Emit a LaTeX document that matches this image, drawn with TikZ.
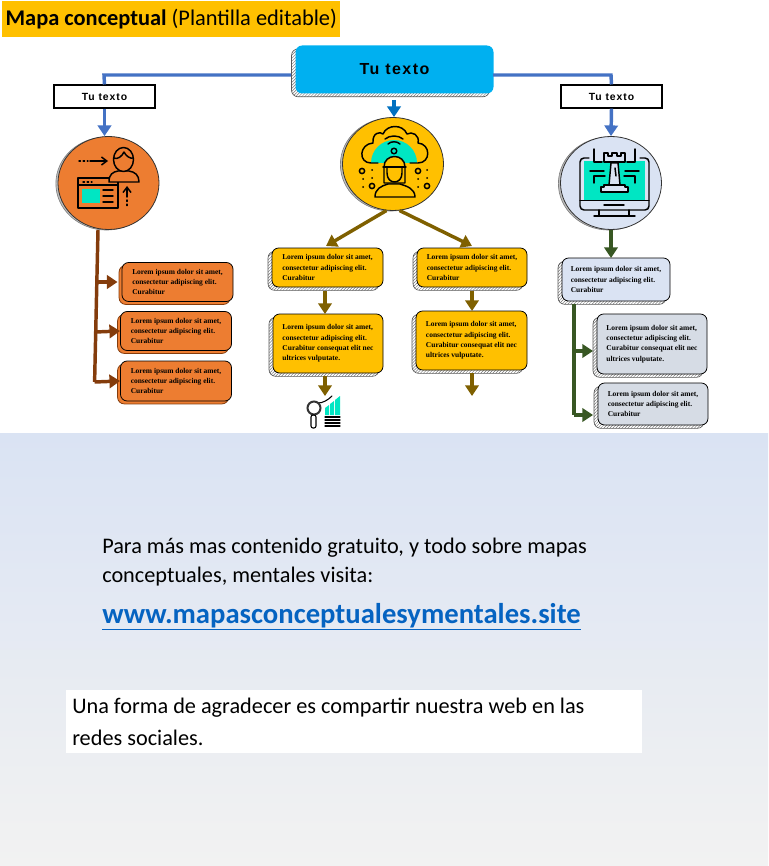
\documentclass[tikz,border=0pt]{standalone}
\usepackage{fontspec}
\setmainfont{Carlito}
\newfontfamily\loremfont{Liberation Serif}
\newfontfamily\tagfont[LetterSpace=9]{Liberation Sans}
\usetikzlibrary{arrows.meta, patterns.meta, shapes.geometric}
\definecolor{bandyellow}{HTML}{FFC000}
\definecolor{mainblue}{HTML}{00B0F0}
\definecolor{linkblue}{HTML}{4472C4}
\definecolor{midblue}{HTML}{0070C0}
\definecolor{orangefill}{HTML}{ED7D31}
\definecolor{brownline}{HTML}{843C0C}
\definecolor{goldline}{HTML}{7F6000}
\definecolor{greenline}{HTML}{385723}
\definecolor{paleblue}{HTML}{DAE3F3}
\definecolor{palegrey}{HTML}{D6DCE5}
\definecolor{paleend}{HTML}{F2F2F2}
\definecolor{iconteal}{HTML}{00E6C3}
\definecolor{urlblue}{HTML}{0563C1}
\def\px{0.75pt}
\newcommand{\loremtext}{\bfseries\loremfont\fontsize{5.6}{7.7}\selectfont}
\begin{document}
\begin{tikzpicture}[x=0.75pt, y=-0.75pt,
  hatched/.style={preaction={draw=black!65, line width=.5pt, pattern={Lines[angle=45, distance=1.6pt, line width=.35pt]},
    pattern color=black!55, transform canvas={xshift=-3pt, yshift=-2.5pt}}},
  stacked/.style={preaction={draw=brownline, fill=orangefill,
    transform canvas={xshift=-2.2pt, yshift=-2.2pt}}},
  loremcard/.style={draw=black, line width=.6pt, rounded corners=5pt, inner sep=0pt,
    align=left, font=\loremtext},
  orangecard/.style={loremcard, stacked, fill=orangefill},
  goldcard/.style={loremcard, hatched, fill=bandyellow},
  bluecard/.style={loremcard, hatched, fill=paleblue},
  greycard/.style={loremcard, hatched, fill=palegrey},
  tagbox/.style={draw=black, line width=.8pt, fill=white, inner sep=0pt,
    minimum width=101*\px, minimum height=23*\px, font=\tagfont\bfseries\fontsize{7.8}{9}\selectfont},
  disc/.style={ellipse, draw=black!80, line width=.6pt, inner sep=0pt,
    minimum width=101*\px, minimum height=93*\px,
    preaction={draw=black!50, fill=black!25, line width=.5pt, transform canvas={xshift=-1.6pt, yshift=-.4pt}}},
  linkarrow/.style={line width=2.6pt, -{Triangle[length=8pt, width=10pt]}},
  linkbare/.style={line width=2.6pt},
  iconline/.style={line width=1.1pt, line cap=round, line join=round},
  iconthin/.style={line width=.8pt, line cap=round},
  spot/.style={fill=black, inner sep=0pt, minimum size=1.5pt, circle}]
\useasboundingbox (0,0) rectangle (768,866);

\shade[top color=paleblue, bottom color=paleend] (0,433) rectangle (768,866);

\node[fill=bandyellow, anchor=north west, inner sep=0pt, minimum width=338*\px, minimum height=36*\px,
  font=\fontsize{16.8}{20}\selectfont] (title) at (2,1) {\textbf{Mapa conceptual} (Plantilla editable)};

\node[hatched, fill=mainblue, rounded corners=5pt, inner sep=0pt, minimum width=198*\px, minimum height=48*\px,
  font=\tagfont\bfseries\fontsize{12}{14}\selectfont] (root) at (394.5,69.5) {Tu texto};
\node[tagbox] (tagA) at (104.5,96.5) {Tu texto};
\node[tagbox] (tagC) at (611.5,96.5) {Tu texto};

\node[disc, fill=orangefill] (discA) at (108.5,183) {};
\node[disc, fill=bandyellow] (discB) at (393,164) {};
\node[disc, fill=paleblue] (discC) at (611,183) {};

\node[orangecard, minimum width=111*\px, minimum height=39*\px] (orangeA) at (177.5,282) {Lorem ipsum dolor sit amet,\\ consectetur adipiscing elit.\\ Curabitur};
\node[orangecard, minimum width=111*\px, minimum height=39*\px] (orangeB) at (176,331) {Lorem ipsum dolor sit amet,\\ consectetur adipiscing elit.\\ Curabitur};
\node[orangecard, minimum width=111*\px, minimum height=40*\px] (orangeC) at (176,381) {Lorem ipsum dolor sit amet,\\ consectetur adipiscing elit.\\ Curabitur};

\node[goldcard, minimum width=111*\px, minimum height=39*\px] (goldA) at (327.5,267.5) {Lorem ipsum dolor sit amet,\\ consectetur adipiscing elit.\\ Curabitur};
\node[goldcard, minimum width=110*\px, minimum height=59*\px] (goldB) at (328,343.5) {Lorem ipsum dolor sit amet,\\ consectetur adipiscing elit.\\ Curabitur consequat elit nec\\ ultrices vulputate.};
\node[goldcard, minimum width=110*\px, minimum height=39*\px] (goldC) at (472,267.5) {Lorem ipsum dolor sit amet,\\ consectetur adipiscing elit.\\ Curabitur};
\node[goldcard, minimum width=111*\px, minimum height=59*\px] (goldD) at (471.5,340.5) {Lorem ipsum dolor sit amet,\\ consectetur adipiscing elit.\\ Curabitur consequat elit nec\\ ultrices vulputate.};

\node[bluecard, minimum width=108*\px, minimum height=43*\px] (blueA) at (616,279.5) {Lorem ipsum dolor sit amet,\\ consectetur adipiscing elit.\\ Curabitur};
\node[greycard, minimum width=110*\px, minimum height=60*\px] (greyA) at (652,344) {Lorem ipsum dolor sit amet,\\ consectetur adipiscing elit.\\ Curabitur consequat elit nec\\ ultrices vulputate.};
\node[greycard, minimum width=110*\px, minimum height=42*\px] (greyB) at (653,404) {Lorem ipsum dolor sit amet,\\ consectetur adipiscing elit.\\ Curabitur};

\coordinate (rootL) at (291,75);
\coordinate (rootR) at (493,75);
\coordinate (cornerA) at (104,75);
\coordinate (cornerC) at (611,75);
\draw[linkbare, draw=linkblue] (rootL) -- (cornerA) -- (tagA.north);
\draw[linkbare, draw=linkblue] (rootR) -- (cornerC) -- (tagC.north);
\draw[linkarrow, draw=linkblue, fill=linkblue] (tagA.south) -- (discA.north -| tagA.south);
\draw[linkarrow, draw=linkblue, fill=linkblue] (tagC.south) -- (discC.north);
\coordinate (rootS) at (394,100);
\draw[linkarrow, draw=midblue, fill=midblue] (rootS) -- (discB.north -| rootS);

\coordinate (trunkA) at (98,230);
\coordinate (trunkA1) at (96.6,282);
\coordinate (trunkA2) at (95.3,332);
\coordinate (trunkA3) at (94.6,382);
\draw[linkbare, draw=brownline] (trunkA) -- (trunkA3);
\draw[linkarrow, draw=brownline, shorten >=3pt] (trunkA1) -- (orangeA.west);
\draw[linkarrow, draw=brownline] (trunkA2) -- (orangeB.west);
\draw[linkarrow, draw=brownline] (trunkA3) -- (orangeC.west);

\coordinate (tipB) at (326,246);
\coordinate (tipC) at (472,246);
\draw[linkarrow, draw=goldline] (discB.262) -- (tipB);
\draw[linkarrow, draw=goldline] (discB.278) -- (tipC);
\coordinate (goldAs) at (325,291);
\coordinate (goldBt) at (325,314);
\coordinate (goldBs) at (325,376);
\coordinate (lensTop) at (325,396);
\coordinate (goldCs) at (472,291);
\coordinate (goldDt) at (472,311);
\coordinate (goldDs) at (472,373);
\coordinate (goldEnd) at (472,396);
\draw[linkarrow, draw=goldline] (goldAs) -- (goldBt);
\draw[linkarrow, draw=goldline] (goldBs) -- (lensTop);
\draw[linkarrow, draw=goldline] (goldCs) -- (goldDt);
\draw[linkarrow, draw=goldline] (goldDs) -- (goldEnd);

\coordinate (blueAt) at (611,258);
\draw[linkarrow, draw=greenline] (discC.south) -- (blueAt);
\coordinate (trunkC) at (574,304);
\coordinate (trunkC1) at (574,351);
\coordinate (trunkC2) at (574,415);
\coordinate (greyAt) at (593,351);
\coordinate (greyBt) at (593,415);
\draw[linkbare, draw=greenline] (trunkC) -- (trunkC2);
\draw[linkarrow, draw=greenline] (trunkC1) -- (greyAt);
\draw[linkarrow, draw=greenline] (trunkC2) -- (greyBt);

% person and window
\fill[iconteal] (82,189) rectangle (100,203);
\draw[iconline] (78,178) rectangle (118,208);
\draw[iconline] (78,185) -- (118,185);
\draw[iconline] (103,190) -- (113,190) (103,196) -- (113,196) (103,202) -- (113,202);
\draw[iconline, dotted] (79,161) -- (88,161);
\draw[iconline, -{Straight Barb[length=4pt, width=6pt]}] (90,161) -- (108,161);
\draw[iconline, -{Straight Barb[length=4pt, width=6pt]}] (127,197) -- (127,186);
\draw[iconline, dotted] (127,200) -- (127,208);
\draw[iconline, dotted] (83,182) -- (92,182);
\draw[iconline, fill=orangefill] (109,182) .. controls (109,174) and (113,172) .. (118,171) -- (129,171) .. controls (135,172) and (139,175) .. (139,182) -- cycle;
\draw[iconline, fill=orangefill] (123.5,159.5) ellipse (10 and 12);
\draw[iconline] (113.5,158) .. controls (118,160) and (122,156) .. (124,152) .. controls (126,156) and (130,159) .. (133.5,158);

% cloud and operator
\fill[iconteal] (371,163) arc (180:360:23) -- cycle;
\draw[iconline] (378,163) -- (371,163) .. controls (358,163) and (359,144) .. (373,143) .. controls (372,133) and (380,131) .. (383,134) .. controls (387,124) and (403,124) .. (407,134) .. controls (412,131) and (420,135) .. (418,143) .. controls (431,144) and (431,163) .. (418,163) -- (410,163);
\draw[iconline] (394,151) circle (2.8);
\draw[iconline] (388,144) .. controls (391,141) and (397,141) .. (400,144);
\draw[iconline] (385,139) .. controls (390,135) and (398,135) .. (403,139);
\draw[iconline, fill=bandyellow] (375,197) .. controls (375,189) and (381,186) .. (388,184) -- (400,184) .. controls (407,186) and (415,189) .. (415,197) -- cycle;
\draw[iconline, fill=bandyellow] (384,183) -- (384,167) .. controls (384,153) and (405,153) .. (405,167) -- (405,183) -- cycle;
\draw[iconline, fill=bandyellow] (387,168) -- (387,173) .. controls (387,185) and (402,185) .. (402,173) -- (402,168);
\draw[iconline] (383,167) -- (406,167);
\draw[iconline] (362,171) circle (2.6) (372,186) circle (2.6) (418,171) circle (2.6) (427,186) circle (2.6);
\node[spot] (dotA) at (372,170) {};
\node[spot] (dotB) at (363,179) {};
\node[spot] (dotC) at (372,178) {};
\node[spot] (dotD) at (363,187) {};
\node[spot] (dotE) at (427,170) {};
\node[spot] (dotF) at (418,179) {};
\node[spot] (dotG) at (427,178) {};
\node[spot] (dotH) at (418,187) {};

% rook on a monitor
\fill[iconteal] (584,161) rectangle (645,200);
\draw[iconline, rounded corners=3pt] (589,158) -- (580,158) -- (580,210) -- (649,210) -- (649,158) -- (640,158);
\draw[iconline] (580,200.5) -- (649,200.5);
\draw[iconline] (604,205) -- (624,205);
\draw[iconline] (599,210) -- (599,216) (629,210) -- (629,216) (594,216) -- (635,216);
\draw[iconline] (594,149) -- (594,162) -- (602,162) (635,149) -- (635,162) -- (627,162);
\draw[iconline] (590,171) -- (604,171) (625,171) -- (639,171);
\draw[iconline] (594,183) -- (594,176) -- (605,176) (635,183) -- (635,176) -- (624,176);
\draw[iconline, fill=paleblue] (609,185) -- (611,163) -- (618,163) -- (620,185) -- cycle;
\draw[iconline, fill=paleblue] (604,153) -- (608,153) -- (608,156) -- (612,156) -- (612,153) -- (617,153) -- (617,156) -- (621,156) -- (621,153) -- (625,153) -- (625,162) -- (604,162) -- cycle;
\draw[iconline, fill=paleblue] (604,185) -- (625,185) -- (625,187) -- (628,187) -- (628,192) -- (601,192) -- (601,187) -- (604,187) -- cycle;
\draw[iconline] (615,168) -- (616,176);

% magnifier and chart
\fill[iconteal] (325,408) -- (329,405) -- (329,415) -- (325,415) -- cycle;
\fill[iconteal] (330,404) -- (334,401) -- (334,415) -- (330,415) -- cycle;
\fill[iconteal] (335,400) -- (340,396) -- (340,415) -- (335,415) -- cycle;
\draw[iconthin] (318,403) .. controls (323,403) and (328,400) .. (332,396);
\draw[black!80, line width=1.5pt] (314,408) circle (6.5);
\draw[iconthin, rounded corners=1.5pt] (311,415) rectangle (316,428);
\draw[iconthin] (325,417) -- (340,417) (325,420) -- (340,420) (325,423) -- (340,423) (325,426) -- (340,426);

\node[anchor=north west, inner sep=0pt, align=flush left, font=\fontsize{16.7}{21.75}\selectfont] (para) at (102,538) {Para más mas contenido gratuito, y todo sobre mapas\\ conceptuales, mentales visita:};
\node[anchor=base west, inner sep=0pt, text=urlblue, font=\bfseries\fontsize{21.5}{24}\selectfont] (url) at (102,623) {\underline{www.mapasconceptualesymentales.site}};
\node[anchor=north west, fill=white, inner xsep=6*\px, inner ysep=0pt, text width=564*\px, minimum height=63*\px, align=flush left,
  font=\fontsize{16.7}{22}\selectfont] (thanks) at (66,690) {\vspace*{2.6pt}Una forma de agradecer es compartir nuestra web en las\\ redes sociales.};
\end{tikzpicture}
\end{document}
